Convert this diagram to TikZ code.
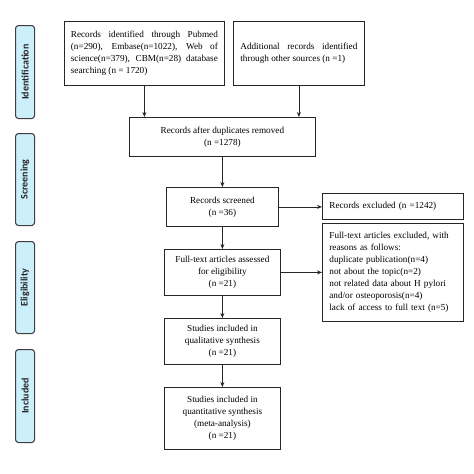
\documentclass[tikz,border=0pt]{standalone}
\usepackage{fontspec}
\setmainfont{Liberation Serif}
\newfontfamily\lblfont{Carlito}
\usetikzlibrary{arrows.meta}
\begin{document}
\begin{tikzpicture}[x=1pt,y=-1pt,
  box/.style={draw=black!85, line width=0.8pt, anchor=north west, inner sep=0pt, align=center, font=\fontsize{9.2}{12}\selectfont},
  stage/.style={draw=black!75, line width=1.1pt, fill=cyan!20, rounded corners=3pt, anchor=north west, inner sep=0pt, minimum width=19pt},
  stagetext/.style={rotate=90, font=\lblfont\bfseries\fontsize{10}{11}\selectfont, text=black!85},
  arr/.style={-{Stealth[length=5pt,width=4pt]}, line width=0.8pt, draw=black!85}]
\useasboundingbox (0,0) rectangle (474,474);
% stage labels
\node[stage, minimum height=93pt] (s1) at (15,25) {};
\node[stagetext] (t1) at (s1.center) {Identification};
\node[stage, minimum height=92pt] (s2) at (15,133) {};
\node[stagetext] (t2) at (s2.center) {Screening};
\node[stage, minimum height=92pt] (s3) at (15,241) {};
\node[stagetext] (t3) at (s3.center) {Eligibility};
\node[stage, minimum height=93pt] (s4) at (15,349) {};
\node[stagetext] (t4) at (s4.center) {Included};
% boxes
\node[box, minimum width=160pt, minimum height=64pt, text width=147pt, align=justify] (A) at (64,21) {Records identified through Pubmed (n=290), Embase(n=1022), Web of science(n=379), CBM(n=28) database searching (n = 1720)};
\node[box, minimum width=131pt, minimum height=64pt, text width=117pt, align=justify] (B) at (233,21) {Additional records identified through other sources (n =1)};
\node[box, minimum width=186pt, minimum height=39pt] (C) at (129,117) {Records after duplicates removed\\(n =1278)};
\node[box, minimum width=112pt, minimum height=39pt] (D) at (166,187) {Records screened\\(n =36)};
\node[box, minimum width=141pt, minimum height=26pt, align=left, text width=127pt] (E) at (322,193) {Records excluded (n =1242)};
\node[box, minimum width=141pt, minimum height=98pt, align=left, text width=127pt] (F) at (322,223) {Full-text articles excluded, with reasons as follows:\\duplicate publication(n=4)\\not about the topic(n=2)\\not related data about H pylori and/or osteoporosis(n=4)\\lack of access to full text (n=5)};
\node[box, minimum width=116pt, minimum height=46pt] (G) at (164,249) {Full-text articles assessed\\for eligibility\\(n =21)};
\node[box, minimum width=116pt, minimum height=46pt] (H) at (164,318) {Studies included in\\qualitative synthesis\\(n =21)};
\node[box, minimum width=116pt, minimum height=62pt] (I) at (164,387) {Studies included in\\quantitative synthesis\\(meta-analysis)\\(n =21)};
% arrows
\draw[arr] (A.south) -- (A.south |- C.north);
\draw[arr] (B.south) -- (B.south |- C.north);
\draw[arr] (C.south) -- (C.south |- D.north);
\draw[arr] (D.east) -- (D.east -| E.west);
\draw[arr] (D.south) -- (D.south |- G.north);
\draw[arr] (G.east) -- (G.east -| F.west);
\draw[arr] (G.south) -- (G.south |- H.north);
\draw[arr] (H.south) -- (H.south |- I.north);
\end{tikzpicture}
\end{document}
